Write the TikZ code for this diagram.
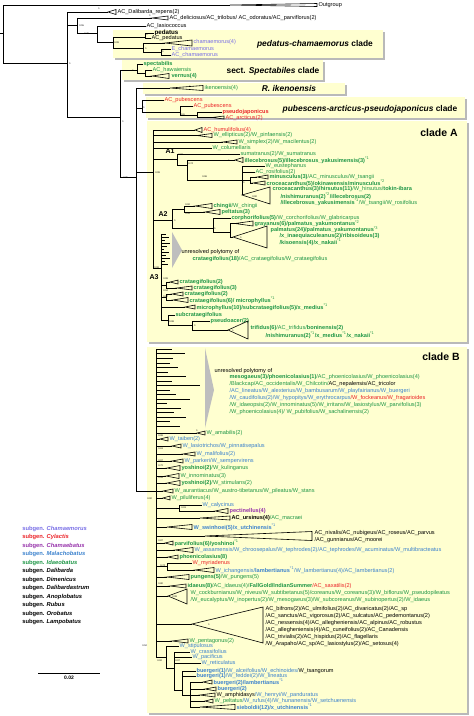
\documentclass[tikz,border=0pt]{standalone}
\usepackage{fontspec}
\setmainfont{Liberation Sans}
\usepackage{tikz}
\definecolor{boxfill}{RGB}{255,255,208}
\definecolor{boxshade}{RGB}{185,185,185}
\definecolor{polyg}{RGB}{190,190,190}
\definecolor{idae}{RGB}{30,150,70}
\definecolor{cyla}{RGB}{235,35,40}
\definecolor{cham}{RGB}{120,110,230}
\definecolor{chmb}{RGB}{150,50,170}
\definecolor{mala}{RGB}{60,130,205}
\newcommand{\tri}[5]{\coordinate (#1) at (#2,#4); \draw (#1) -- (#3,#4-#5) -- (#3,#4+#5) -- cycle;}
\newcommand{\cbox}[4]{\fill[boxshade] (#1+2,#2+2) rectangle (#3+2,#4+2); \fill[boxfill] (#1,#2) rectangle (#3,#4);}
\newcommand{\stz}[1]{\textsuperscript{*#1}}

\begin{document}
\begin{tikzpicture}[x=1pt,y=-1pt,line width=0.6pt,
    tip/.style={anchor=west,inner sep=0.3pt,font=\fontsize{5.6}{6}\selectfont},
    bsup/.style={anchor=south west,inner sep=0pt,font=\fontsize{2.4}{2.6}\selectfont},
    ttl/.style={font=\fontsize{8.4}{9}\selectfont\bfseries},
    cladelbl/.style={font=\fontsize{7}{8}\selectfont\bfseries},
    lgd/.style={anchor=west,inner sep=0pt,font=\fontsize{5.8}{7}\selectfont\bfseries}]
    \useasboundingbox (0,0) rectangle (474,716);

    \cbox{113}{30}{383}{58}
    \cbox{122}{60}{323}{80}
    \cbox{143}{83}{345}{94}
    \cbox{146}{97}{465}{118}
    \cbox{147}{121}{467}{342}
    \cbox{147}{347}{467}{713}
    \node[ttl] at (315,44) {\textit{pedatus-chamaemorus} clade};
    \node[ttl] at (273,71) {sect. \textit{Spectabiles} clade};
    \node[ttl] at (289,88) {\textit{R. ikenoensis}};
    \node[ttl] at (370,109) {\textit{pubescens-arcticus-pseudojaponicus} clade};
    \node[font=\fontsize{10.5}{12}\selectfont\bfseries] at (439,133) {clade A};
    \node[font=\fontsize{10.5}{12}\selectfont\bfseries] at (441,357) {clade B};

    \coordinate (root) at (0,33);
    \coordinate (r0) at (3,33);
    \draw (root) -- (r0);
    \tri{og}{230}{317}{5}{1.5}
    \draw (r0) |- (og);
    \node[tip] (tog) at (318,5) {Outgroup};

    \coordinate (n67) at (67,63);
    \draw (r0) |- (n67);
    \tri{dal}{108}{116}{12}{2.5}
    \draw (n67) |- (dal);
    \node[tip] (tdal) at (117,12) {AC\_Dalibarda\_repens(2)};
    \coordinate (n77) at (77,25);
    \draw (n67) |- (n77);
    \tri{deli}{152}{168}{18}{2}
    \draw (n77) |- (deli);
    \node[tip] (tdeli) at (169,18) {AC\_deliciosus/AC\_trilobus/ AC\_odoratus/AC\_parviflorus(2)};
    \coordinate (n97) at (97,33);
    \draw (n77) |- (n97);
    \node[tip] (tlas) at (146,26) {AC\_lasiococcus};
    \draw (n97) |- (tlas.west);
    \coordinate (n113) at (113,42);
    \draw (n97) |- (n113);
    \coordinate (n145) at (145,37);
    \draw (n113) |- (n145);
    \node[tip,font=\fontsize{6.2}{7}\selectfont\bfseries] (tped) at (154,33) {pedatus};
    \draw (n145) |- (tped.west);
    \node[tip] (tacped) at (151,38.5) {AC\_pedatus};
    \draw (n145) |- (tacped.west);
    \coordinate (n143) at (143,48);
    \draw (n113) |- (n143);
    \tri{chm4}{165}{192}{43}{3}
    \draw (n143) |- (chm4);
    \node[tip,text=cham] (tchm4) at (193,42) {chamaemorus(4)};
    \coordinate (n161) at (161,52);
    \draw (n143) |- (n161);
    \node[tip,text=cham] (techm) at (171,49) {E\_chamaemorus};
    \node[tip,text=cham] (tachm) at (171,55) {AC\_chamaemorus};
    \draw (n161) |- (techm.west);
    \draw (n161) |- (tachm.west);

    \coordinate (n120) at (120,117);
    \draw (n67) |- (n120);
    \coordinate (n137) at (137,70);
    \draw (n120) |- (n137);
    \node[tip,text=idae] (tspec) at (143,64) {\textbf{spectabilis}};
    \draw (n137) |- (tspec.west);
    \coordinate (n145s) at (145,73);
    \draw (n137) |- (n145s);
    \node[tip,text=idae] (thaw) at (152,70) {AC\_hawaiensis};
    \draw (n145s) |- (thaw.west);
    \tri{vern}{152}{169}{76}{2.5}
    \draw (n145s) |- (vern);
    \node[tip,text=idae] (tvern) at (171,76) {\textbf{vernus(4)}};

    \coordinate (n136) at (136,177);
    \draw (n120) |- (n136);
    \tri{iken}{170}{203}{88}{2.5}
    \draw (n136) |- (iken);
    \node[tip,text=idae] (tiken) at (204,88) {ikenoensis(4)};

    \coordinate (n142) at (142,108);
    \draw (n136) |- (n142);
    \node[tip,text=cyla] (tpub1) at (164,100) {AC\_pubescens};
    \draw (n142) |- (tpub1.west);
    \coordinate (n180) at (180,112);
    \draw (n142) |- (n180);
    \node[tip,text=cyla] (tpub2) at (193,106.5) {AC\_pubescens};
    \draw (n180) |- (tpub2.west);
    \coordinate (n197) at (197,115);
    \draw (n180) |- (n197);
    \node[tip,text=cyla] (tpseu) at (222,112) {\textbf{pseudojaponicus}};
    \draw (n197) |- (tpseu.west);
    \tri{arc}{212}{224}{117.5}{1.5}
    \draw (n197) |- (arc);
    \node[tip,text=cyla] (tarc) at (225,118) {AC\_arcticus(2)};

    \coordinate (nA) at (153,172);
    \draw (n136) |- (nA);
    \tri{hum}{195}{202}{130}{2.5}
    \draw (nA) |- (hum);
    \node[tip,text=cyla] (thum) at (203,130) {AC\_humulifolius(4)};
    \tri{ell}{197}{212}{135.5}{2}
    \draw (nA) |- (ell);
    \node[tip,text=idae] (tell) at (213,135.5) {W\_ellipticus(2)/W\_pinfaensis(2)};
    \tri{simp}{223}{237}{142}{2}
    \draw (nA) |- (simp);
    \node[tip,text=idae] (tsimp) at (238,142) {W\_simplex(2)/W\_macilentus(2)};
    \node[tip,text=idae] (tcol) at (212,148.5) {W\_columellaris};
    \draw (nA) |- (tcol.west);
    \node[cladelbl] at (170,151) {A1};
    \coordinate (n177) at (177,159);
    \draw (nA) |- (n177);
    \node[tip,text=idae] (tsum) at (240,154) {sumatranus(2)/W\_sumatranus};
    \draw (n177) |- (tsum.west);
    \coordinate (n187) at (187,165);
    \draw (n177) |- (n187);
    \tri{ill}{235}{243}{160}{2.5}
    \draw (n187) |- (ill);
    \node[tip,text=idae] (till) at (244,160) {\textbf{illecebrosus(5)/illecebrosus\_yakusimensis(3)}\stz1};
    \coordinate (n201) at (201,180);
    \draw (n187) |- (n201);
    \coordinate (n242) at (242,180);
    \draw (n201) -- (n242);
    \node[tip,text=idae] (teus) at (265,166) {W\_eustephanus};
    \draw (n242) |- (teus.west);
    \node[tip,text=idae] (tros) at (255,172) {AC\_rosifolius(2)};
    \draw (n242) |- (tros.west);
    \coordinate (n250) at (250,180);
    \draw (n242) -- (n250);
    \tri{minu}{257}{268}{177}{2}
    \draw (n250) |- (minu);
    \node[tip,text=idae] (tminu) at (269,177) {\textbf{minusculus(3)}/AC\_minusculus/W\_tsangii};
    \tri{cro5}{253}{265}{183}{2}
    \draw (n250) |- (cro5);
    \node[tip,text=idae] (tcro5) at (266,183) {\textbf{croceacanthus(5)/okinawensis/minusculus}\stz2};
    \coordinate (cro3) at (242,195);
    \draw (n242) |- (cro3);
    \draw (cro3) -- (270,187) -- (270,204) -- cycle;
    \node[tip,text=idae] (tcro3) at (272,189) {\textbf{croceacanthus(3)/hirsutus(11)}/W\_hirsutus/\textbf{tokin-ibara}};
    \node[tip,text=idae] (tnis) at (280,196) {\textbf{/nishimuranus(2)}\stz2\textbf{/illecebrosus(2)}};
    \node[tip,text=idae] (tilly) at (280,202) {\textbf{/illecebrosus\_yakusimensis}\stz1/W\_tsangii/W\_rosifolius};

    \coordinate (nA2) at (172,220);
    \draw (nA) |- (nA2);
    \node[cladelbl] at (163,214) {A2};
    \coordinate (n184) at (184,209);
    \draw (nA2) |- (n184);
    \tri{chin}{195}{212}{206}{2.5}
    \draw (n184) |- (chin);
    \node[tip,text=idae] (tchin) at (213,206) {\textbf{chingii}/W\_chingii};
    \tri{pelt}{205}{220}{212}{2.5}
    \draw (n184) |- (pelt);
    \node[tip,text=idae] (tpelt) at (221,212) {\textbf{peltatus(3)}};
    \coordinate (n213) at (213,228);
    \draw (nA2) |- (n213);
    \node[tip,text=idae] (tcor) at (231,218) {\textbf{corphorifolius(5)}/W\_corchorifolius/W\_glabricarpus};
    \draw (n213) |- (tcor.west);
    \coordinate (n230) at (230,232);
    \draw (n213) |- (n230);
    \tri{gray}{235}{253}{223.5}{2.5}
    \draw (n230) |- (gray);
    \node[tip,text=idae] (tgray) at (254,223.5) {\textbf{grayanus(6)/palmatus\_yakumontanus}\stz2};
    \coordinate (palm) at (233,237);
    \draw (n230) |- (palm);
    \draw (palm) -- (267,226) -- (267,248) -- cycle;
    \node[tip,text=idae] (tpalm) at (270,229.5) {\textbf{palmatus(24)/palmatus\_yakumontanus}\stz3};
    \node[tip,text=idae] (tinae) at (279,236) {\textbf{/x\_inaequiaculeanus(2)/ribisoideus(3)}};
    \node[tip,text=idae] (tkiso) at (279,242) {\textbf{/kisoensis(4)/x\_nakaii}\stz1};

    \coordinate (nA3) at (161,268);
    \draw (nA) |- (nA3);
    \foreach \yy/\xx [count=\i] in {234/166,237/169,240/165,243/170,246/167,249/164,252/169,255/166,258/170,261/165,264/168}
      {\coordinate (pa\i) at (\xx,\yy); \draw (nA3) |- (pa\i);}
    \fill[polyg] (172,232) -- (172,268) -- (182,250) -- cycle;
    \node[tip] (tunA) at (181,252) {unresolved polytomy of};
    \node[tip,text=idae] (tcr18) at (192,259) {\textbf{crataegifolius(18)}/AC\_crataegifolius/W\_crataegifolius};
    \node[cladelbl] at (154,277) {A3};
    \coordinate (nc12) at (166,285);
    \draw (nA3) |- (nc12);
    \tri{c1}{170}{178}{282}{2}
    \draw (nc12) |- (c1);
    \node[tip,text=idae] (tc1) at (179,282) {\textbf{crataegifolius(2)}};
    \tri{c2}{177}{192}{288}{2}
    \draw (nc12) |- (c2);
    \node[tip,text=idae] (tc2) at (193,288) {\textbf{crataegifolius(3)}};
    \coordinate (nc34) at (166,297);
    \draw (nA3) |- (nc34);
    \tri{c3}{172}{183}{294}{2}
    \draw (nc34) |- (c3);
    \node[tip,text=idae] (tc3) at (184,294) {\textbf{crataegifolius(2)}};
    \tri{c4}{173}{188}{300}{2.5}
    \draw (nc34) |- (c4);
    \node[tip,text=idae] (tc4) at (189,300) {\textbf{crataegifolius(6)/ microphyllus}\stz1};
    \tri{c5}{185}{195}{307}{2}
    \draw (nA3) |- (c5);
    \node[tip,text=idae] (tc5) at (196,307) {\textbf{microphyllus(10)/subcrataegifolius(5)/x\_medius}\stz1};
    \coordinate (n168) at (168,320);
    \draw (nA3) |- (n168);
    \node[tip,text=idae] (tsubc) at (175,315) {\textbf{subcrataegifolius}};
    \draw (n168) |- (tsubc.west);
    \coordinate (n192) at (192,325);
    \draw (n168) |- (n192);
    \node[tip,text=idae] (tpsa) at (210,321) {\textbf{pseudoacer(2)}};
    \draw (n192) |- (tpsa.west);
    \coordinate (trif) at (228,330);
    \draw (n192) |- (trif);
    \draw (trif) -- (248,321) -- (248,339) -- cycle;
    \node[tip,text=idae] (ttrif) at (250,328) {\textbf{trifidus(6)}/AC\_trifidus/\textbf{boninensis(2)}};
    \node[tip,text=idae] (tnish) at (265,335) {\textbf{/nishimuranus(2)}\stz1\textbf{/x\_medius}\stz1\textbf{/x\_nakaii}\stz1};

    \coordinate (nB) at (156,491);
    \draw (n136) |- (nB);
    \foreach \yy/\xx [count=\i] in {349/172,353/185,358/173,363/170,367/178,372/168,376/186,381/172,385/200,390/170,394/176,399/190,403/167,408/181,412/174,417/186,421/170,426/180}
      {\coordinate (pb\i) at (\xx,\yy); \draw (nB) |- (pb\i);}
    \fill[polyg] (205,348) -- (205,428) -- (214,390) -- cycle;
    \node[tip] (tunB) at (214,371) {unresolved polytomy of};
    \node[tip,text=idae] (tpb1) at (229,377) {\textbf{mesogaeus(3)/phoenicolasius(1)}/AC\_phoenicolasius/W\_phoenicolasius(4)};
    \node[tip] (tpb2) at (229,384) {\textcolor{idae}{/Blackcap/AC\_occidentalis/W\_Chilcotin/}AC\_nepalensis/AC\_tricolor};
    \node[tip,text=mala] (tpb3) at (229,391) {/AC\_lineatus/W\_alexterius/W\_bambusarum/W\_playfairianus/W\_buergeri};
    \node[tip,text=mala] (tpb4) at (229,398) {/W\_caudifolius(2)/W\_hypopitys/W\_erythrocarpus\textcolor{cyla}{/W\_fockeanus/W\_fragarioides}};
    \node[tip,text=idae] (tpb5) at (229,405) {/W\_idaeopsis(2)/W\_innominatus(5)/W\_irritans/W\_lasiostylus/W\_parvifolius(3)};
    \node[tip,text=idae] (tpb6) at (229,412) {/W\_phoenicolasius(4)/ W\_pubifolius/W\_sachalinensis(2)};

    \tri{amab}{197}{205}{433}{2}
    \draw (nB) |- (amab);
    \node[tip,text=idae] (tamab) at (206,433) {W\_amabilis(2)};
    \tri{taib}{160}{168}{439}{2}
    \draw (nB) |- (taib);
    \node[tip,text=mala] (ttaib) at (169,439) {W\_taiben(2)};
    \tri{lasi}{172}{181}{446}{2}
    \draw (nB) |- (lasi);
    \node[tip,text=mala] (tlasi) at (182,446) {W\_lasiotrichos/W\_pinnatisepalus};
    \tri{mali}{183}{195}{454}{2}
    \draw (nB) |- (mali);
    \node[tip,text=mala] (tmali) at (196,454) {W\_malifolius(2)};
    \tri{park}{172}{183}{461}{2}
    \draw (nB) |- (park);
    \node[tip,text=mala] (tpark) at (184,461) {W\_parkeri/W\_sempervirens};
    \tri{yos1}{167}{180}{468}{2.5}
    \draw (nB) |- (yos1);
    \node[tip,text=idae] (tyos1) at (181,468) {\textbf{yoshinoi(2)}/W\_kulinganus};
    \tri{inno}{166}{179}{476}{2.5}
    \draw (nB) |- (inno);
    \node[tip,text=idae] (tinno) at (180,476) {W\_innominatus(3)};
    \tri{yos2}{167}{180}{483}{2.5}
    \draw (nB) |- (yos2);
    \node[tip,text=idae] (tyos2) at (181,483) {\textbf{yoshinoi(2)}/W\_stimulans(2)};
    \tri{aura}{163}{173}{491}{2}
    \draw (nB) -- (aura);
    \node[tip,text=idae] (taura) at (174,491) {W\_aurantiacus/W\_austro-tibetanus/W\_pileatus/W\_stans};
    \tri{pilu}{163}{170}{498}{2}
    \draw (nB) |- (pilu);
    \node[tip,text=idae] (tpilu) at (171,498) {W\_piluliferus(4)};
    \coordinate (n179) at (179,508);
    \draw (nB) |- (n179);
    \node[tip,text=mala] (tcaly) at (202,505) {W\_calycinus};
    \draw (n179) |- (tcaly.west);
    \tri{pect}{215}{228}{511}{2.5}
    \draw (n179) |- (pect);
    \node[tip,text=chmb] (tpect) at (229,511) {\textbf{pectinellus(4)}};
    \tri{ursi}{200}{230}{518}{2}
    \draw (nB) |- (ursi);
    \node[tip] (tursi) at (231,518) {\textbf{AC\_ursinus(4)}\textcolor{idae}{/AC\_macraei}};
    \tri{swin}{167}{192}{527}{2.5}
    \draw (nB) |- (swin);
    \node[tip,text=mala] (tswin) at (193,527) {\textbf{W\_swinhoei(5)/x\_utchinensis}\stz1};
    \tri{niva}{205}{312}{536}{4.5}
    \draw (nB) |- (niva);
    \node[tip] (tniv1) at (314,533) {AC\_nivalis/AC\_nubigeus/AC\_roseus/AC\_parvus};
    \node[tip] (tniv2) at (314,540) {/AC\_gunnianus/AC\_moorei};
    \tri{parv}{165}{173}{543}{2}
    \draw (nB) |- (parv);
    \node[tip,text=idae] (tparv) at (174,543) {\textbf{parvifolius(6)/yoshinoi}\stz1};
    \tri{assa}{175}{193}{550}{2.5}
    \draw (nB) |- (assa);
    \node[tip,text=mala] (tassa) at (194,550) {W\_assamensis/W\_chroosepalus/W\_tephrodes(2)/AC\_tephrodes/W\_acuminatus/W\_multibracteatus};
    \tri{phoe}{168}{178}{557}{2}
    \draw (nB) |- (phoe);
    \node[tip,text=idae] (tphoe) at (179,557) {\textbf{phoenicolasius(8)}};
    \coordinate (n167) at (167,566);
    \draw (nB) |- (n167);
    \node[tip,text=cyla] (tmyri) at (192,563) {W\_myriadenus};
    \draw (n167) |- (tmyri.west);
    \tri{icha}{195}{214}{570}{2.5}
    \draw (n167) |- (icha);
    \node[tip,text=mala] (ticha) at (215,570) {W\_ichangensis/\textbf{lambertianus}\stz1/W\_lambertianus(4)/AC\_lambertianus(2)};
    \tri{pung}{167}{189}{577}{2.5}
    \draw (nB) |- (pung);
    \node[tip,text=idae] (tpung) at (190,577) {\textbf{pungens(5)}/W\_pungens(5)};
    \tri{idae8}{170}{186}{586}{2}
    \draw (nB) |- (idae8);
    \node[tip,text=idae] (tidae) at (187,586) {\textbf{idaeus(8)}/AC\_idaeus(4)/\textbf{FallGold/IndianSummer}\textcolor{cyla}{/AC\_saxatilis(2)}};
    \coordinate (cock) at (168,596);
    \draw (nB) |- (cock);
    \draw (cock) -- (187,589) -- (187,604) -- cycle;
    \node[tip,text=idae] (tcoc1) at (190,593) {W\_cockburnianus/W\_niveus/W\_subtibetanus(5)/coreanus/W\_coreanus(3)/W\_biflorus/W\_pseudopileatus};
    \node[tip,text=idae] (tcoc2) at (190,600) {/W\_eucalyptus/W\_inopertus(2)/W\_mesogaeus(3)/W\_subcoreanus/W\_subinopertus(2)/W\_idaeus};
    \coordinate (rubus) at (192,624);
    \draw (nB) |- (rubus);
    \draw (rubus) -- (263,607) -- (263,643) -- cycle;
    \node[tip] (tru1) at (265,609) {AC\_bifrons(2)/AC\_ulmifolius(2)/AC\_divaricatus(2)/AC\_sp};
    \node[tip] (tru2) at (265,616) {/AC\_sanctus/AC\_vigorosus(2)/AC\_sulcatus/AC\_pedemontanus(2)};
    \node[tip] (tru3) at (265,623) {/AC\_nessensis(4)/AC\_allegheniensis/AC\_alpinus/AC\_robustus};
    \node[tip] (tru4) at (265,630) {/AC\_allegheniensis(4)/AC\_cuneifolius(2)/AC\_Canadensis};
    \node[tip] (tru5) at (265,637) {/AC\_trivialis(2)/AC\_hispidus(2)/AC\_flagellaris};
    \node[tip] (tru6) at (265,644) {/W\_Arapaho/AC\_sp/AC\_lasiostylus(2)/AC\_setosus(4)};
    \tri{pent}{172}{188}{641}{2}
    \draw (nB) |- (pent);
    \node[tip,text=idae] (tpent) at (189,641) {W\_pentagonus(2)};
    \coordinate (n166) at (166,657);
    \draw (nB) |- (n166);
    \node[tip,text=mala] (tstip) at (179,646) {W\_stipulosus};
    \draw (n166) |- (tstip.west);
    \coordinate (n174) at (174,668);
    \draw (n166) |- (n174);
    \node[tip,text=mala] (tcras) at (190,652) {W\_crassifolius};
    \draw (n174) |- (tcras.west);
    \node[tip,text=mala] (tpaci) at (192,657) {W\_pacificus};
    \draw (n174) |- (tpaci.west);
    \node[tip,text=mala] (treti) at (201,663) {W\_reticulatus};
    \draw (n174) |- (treti.west);
    \coordinate (n182) at (182,690);
    \draw (n174) |- (n182);
    \node[tip,text=mala] (tbu1) at (196,671) {\textbf{buergeri(1)}/W\_alceifolius/W\_echinoides/\textcolor{black}{W\_tsangorum}};
    \draw (n182) |- (tbu1.west);
    \node[tip,text=mala] (tbu2) at (196,676) {\textbf{buergeri(1)}/W\_feddei(2)/W\_lineatus};
    \draw (n182) |- (tbu2.west);
    \coordinate (n190) at (190,695);
    \draw (n182) |- (n190);
    \tri{bu3}{203}{212}{682}{2}
    \draw (n190) |- (bu3);
    \node[tip,text=mala] (tbu3) at (213,682) {\textbf{buergeri(2)/lambertianus}\stz1};
    \tri{bu4}{205}{216}{689}{2}
    \draw (n190) |- (bu4);
    \node[tip,text=mala] (tbu4) at (217,689) {\textbf{buergeri(2)}};
    \tri{amph}{200}{215}{695}{2}
    \draw (n190) |- (amph);
    \node[tip,text=mala] (tamph) at (216,695) {\textcolor{black}{W\_amphidasys}/W\_henryi/W\_panduratus};
    \tri{pelw}{205}{213}{701}{2}
    \draw (n190) |- (pelw);
    \node[tip,text=mala] (tpelw) at (214,701) {\textcolor{idae}{W\_peltatus}/W\_rufus(4)/W\_hunanensis/W\_setchuenensis};
    \tri{sieb}{200}{235}{707}{2.5}
    \draw (n190) |- (sieb);
    \node[tip,text=mala] (tsieb) at (236,707) {\textbf{sieboldii(12)/x\_utchinensis}\stz1};

    \foreach \xx/\yy/\sv in {98/10/1\,/100,149/17/1/99,79/27/0.55/37,84/35/0.76/47,114/44/0.99/75,146/36/1/97,
      145/50/1/100,162/53/1/100,69/65/1/100,132/72/1/92,189/88/1/99,143/109/1/94,181/116/0.6/.,122/123/1/99,
      123/179/0.85/.57,155/174/0.99/45,178/156/0.60,188/165/0.74/63,228/162/1/100,202/178/0.96/91,243/184/1/92,
      252/198/0.90/60,185/206/0.92,185/215/0.99/57,174/222/1/71,214/230/1/100,240/239/1/100,154/269/0.98/75,
      163/280/0.99/95,163/292/0.94,163/298/0.87,169/323/0.98/29,194/327/1/98,232/332/1/99,196/432/1/100,
      158/437/0.99,158/450/0.61,158/462/0.97,158/467/0.72,158/479/0.99,147/500/0.90,181/509/0.91,
      175/529/1/100,207/538/0.98/.89,158/542/0.87/.,160/567/0.74/22,158/585/0.80/.77,172/598/0.99/.,
      208/626/1/95,142/647/0.52/ns,157/662/0.92/ns,175/662/0.97/.}
      {\node[bsup] at (\xx,\yy) {\sv};}

    \node[lgd,text=cham] (lg1) at (22,529) {subgen. \textit{Chamaemorus}};
    \node[lgd,text=cyla] (lg2) at (22,537.5) {subgen. \textit{Cylactis}};
    \node[lgd,text=chmb] (lg3) at (22,546) {subgen. \textit{Chamaebatus}};
    \node[lgd,text=mala] (lg4) at (22,554.5) {subgen. \textit{Malachobatus}};
    \node[lgd,text=idae] (lg5) at (22,563) {subgen. \textit{Idaeobatus}};
    \node[lgd] (lg6) at (22,571.5) {subgen. \textit{Dalibarda}};
    \node[lgd] (lg7) at (22,580) {subgen. \textit{Dimenicus}};
    \node[lgd] (lg8) at (22,588.5) {subgen. \textit{Dalibardastrum}};
    \node[lgd] (lg9) at (22,597) {subgen. \textit{Anoplobatus}};
    \node[lgd] (lg10) at (22,605.5) {subgen. \textit{Rubus}};
    \node[lgd] (lg11) at (22,614) {subgen. \textit{Orobatus}};
    \node[lgd] (lg12) at (22,622.5) {subgen. \textit{Lampobatus}};
    \coordinate (sb0) at (38,673);
    \coordinate (sb1) at (100,673);
    \draw (sb0) -- (sb1);
    \node[font=\fontsize{5}{6}\selectfont\bfseries] at (69,678) {0.02};
\end{tikzpicture}
\end{document}
